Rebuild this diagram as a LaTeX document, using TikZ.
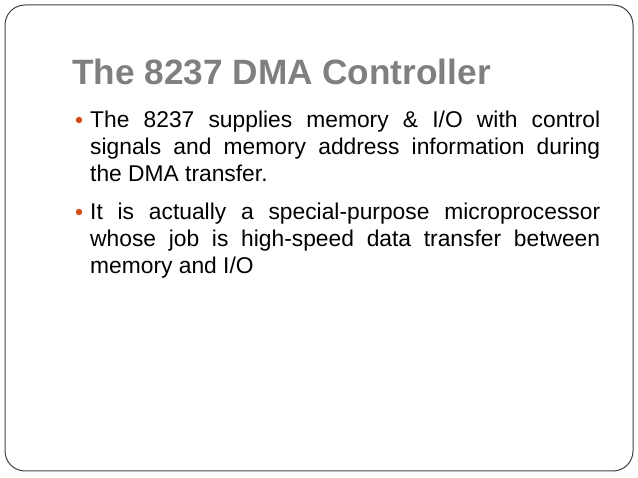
\documentclass[tikz,border=0pt]{standalone}
\usepackage{fontspec}
\setmainfont{Liberation Sans}
\definecolor{titlegray}{HTML}{7F7F7F}
\definecolor{bulletred}{HTML}{D2501E}
\begin{document}
\begin{tikzpicture}[x=1pt,y=1pt,
  para/.style={anchor=base west,inner sep=0pt,text width=510pt,align=justify,font=\fontsize{22.8}{27}\selectfont},
  dot/.style={circle,fill=bulletred,inner sep=0pt,minimum size=6.5pt}]
\useasboundingbox (0,0) rectangle (638,-478);
\draw[line width=1pt,rounded corners=20pt,draw=black!75] (5,-5) rectangle (633,-471);
\node[anchor=base west,inner sep=0pt,text=titlegray,font=\fontsize{35.2}{40}\selectfont\bfseries] (title) at (72,-85) {The 8237 DMA Controller};
\node[para] (p1) at (90,-128) {The 8237 supplies memory \& I/O with control\linebreak signals and memory address information during\linebreak the DMA transfer.};
\node[para] (p2) at (90,-220) {It is actually a special-purpose microprocessor\linebreak whose job is high-speed data transfer between\linebreak memory and I/O};
\node[dot] (b1) at (79,-120) {};
\node[dot] (b2) at (79,-212) {};
\end{tikzpicture}
\end{document}
